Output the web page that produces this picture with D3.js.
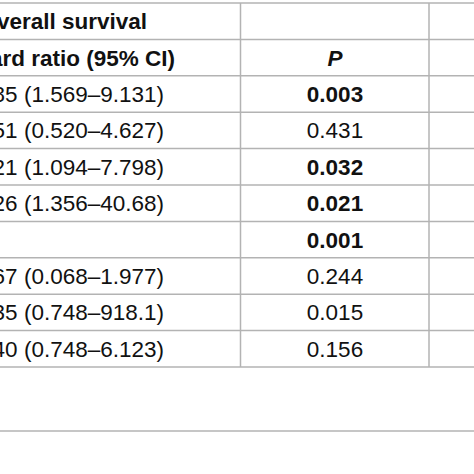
<!DOCTYPE html>
<html><head><meta charset="utf-8">
<script src="https://cdn.jsdelivr.net/npm/d3@7"></script>
<style>body{margin:0;background:#fff}</style></head>
<body><svg id="c" width="474" height="474"></svg>
<script>
const header1 = ["Overall survival", "", ""];
const header2 = ["Hazard ratio (95% CI)", "P", ""];
const hazard = ["3.785 (1.569–9.131)", "1.551 (0.520–4.627)", "2.921 (1.094–7.798)", "7.426 (1.356–40.68)", "", "0.367 (0.068–1.977)", "26.35 (0.748–918.1)", "2.140 (0.748–6.123)"];
const pvals = ["0.003", "0.431", "0.032", "0.021", "0.001", "0.244", "0.015", "0.156"];
const bold = [true, false, true, true, true, false, false, false];

const svg = d3.select("#c");
const nRows = 2 + hazard.length;
const y = d3.scaleLinear().domain([0, nRows]).range([3, 367]);
const line = "#b3b3b3";
const font = "'Liberation Sans', Arial, Helvetica, sans-serif";

d3.range(nRows + 1).forEach(i => {
  svg.append("line").attr("x1", 0).attr("x2", 474).attr("y1", y(i)).attr("y2", y(i))
    .attr("stroke", line).attr("stroke-width", 1.5);
});
svg.append("line").attr("x1", 0).attr("x2", 474).attr("y1", 431).attr("y2", 431)
  .attr("stroke", line).attr("stroke-width", 1.5);
[240.5, 429].forEach(x => svg.append("line").attr("x1", x).attr("x2", x)
  .attr("y1", y(0)).attr("y2", y(nRows)).attr("stroke", line).attr("stroke-width", 1.5));

const mid = i => (y(i) + y(i + 1)) / 2 + 8;
function txt(x, yy, s, opts) {
  const t = svg.append("text").attr("x", x).attr("y", yy).text(s)
    .attr("font-family", font).attr("font-size", 22.5).attr("fill", "#111");
  if (opts.anchor) t.attr("text-anchor", opts.anchor);
  if (opts.bold) t.attr("font-weight", "bold");
  if (opts.italic) t.attr("font-style", "italic");
}
txt(147, mid(0), header1[0], {anchor: "end", bold: true});
txt(175, mid(1), header2[0], {anchor: "end", bold: true});
txt(335, mid(1), header2[1], {anchor: "middle", bold: true, italic: true});
hazard.forEach((h, i) => {
  if (h) txt(164, mid(i + 2), h, {anchor: "end"});
  txt(335, mid(i + 2), pvals[i], {anchor: "middle", bold: bold[i]});
});
</script></body></html>
